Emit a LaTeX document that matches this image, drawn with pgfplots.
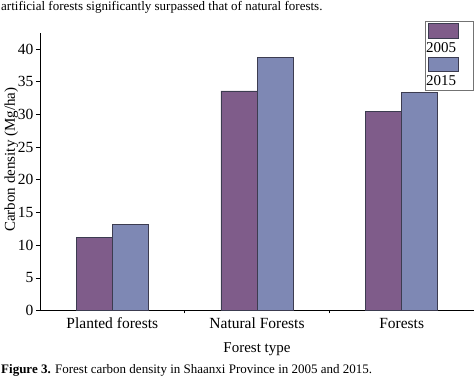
\documentclass[border=0pt]{standalone}
\usepackage{pgfplots}
\pgfplotsset{compat=1.18}
\usepackage{fontspec}
\setmainfont{Liberation Serif}
\definecolor{c05}{HTML}{7F5C8A}
\definecolor{c15}{HTML}{7E88B4}
\definecolor{edge}{HTML}{3C3C50}
\begin{document}
\begin{tikzpicture}
\path[use as bounding box, clip] (-40pt,-66.5pt) rectangle (434pt,310.5pt);
\begin{axis}[
 scale only axis, width=434pt, height=277.8pt,
 xmin=-0.5, xmax=2.5, ymin=0, ymax=42.5,
 axis x line*=bottom, axis y line*=left,
 axis line style={black, line width=0.6pt},
 ybar=0pt, bar width=36pt,
 xtick={0,1,2}, xticklabels={Planted forests, Natural Forests, Forests},
 xtick style={draw=none},
 extra x ticks={0.5,1.5}, extra x tick labels={},
 extra x tick style={xtick style={draw=black, line width=0.5pt}, major tick length=3pt},
 ytick={0,5,...,40}, tick align=outside, major tick length=4pt,
 ytick style={black, line width=0.6pt},
 tick label style={font=\fontsize{15.5}{17}\selectfont},
 yticklabel style={xshift=1pt},
 /pgf/number format/assume math mode=true,
 xlabel={Forest type}, ylabel={Carbon density (Mg/ha)},
 label style={font=\fontsize{15}{17}\selectfont},
 xlabel style={at={(axis description cs:0.5,0)}, anchor=center, yshift=-39pt},
 ylabel style={at={(axis description cs:-0.066,0.543)}, anchor=center},
]
\addplot[fill=c05, draw=edge, line width=0.5pt] coordinates {(0,11.2) (1,33.6) (2,30.5)};
\addplot[fill=c15, draw=edge, line width=0.5pt] coordinates {(0,13.2) (1,38.7) (2,33.4)};
\end{axis}
\draw[black!55, line width=0.5pt, fill=white] (385pt,220.5pt) rectangle (433.5pt,289pt);
\draw[edge, line width=0.5pt, fill=c05] (388pt,272.5pt) rectangle (418pt,287pt);
\node[font=\fontsize{15}{17}\selectfont] at (401pt,263pt) {2005};
\draw[edge, line width=0.5pt, fill=c15] (388pt,239pt) rectangle (418pt,253.5pt);
\node[font=\fontsize{15}{17}\selectfont] at (401pt,229.5pt) {2015};
\node[anchor=base west, font=\fontsize{13}{15}\selectfont, inner sep=0pt] at (-39pt,300pt) {artificial forests significantly surpassed that of natural forests.};
\node[anchor=base west, font=\fontsize{13}{15}\selectfont, inner sep=0pt] at (-39pt,-63pt) {\textbf{Figure 3.} Forest carbon density in Shaanxi Province in 2005 and 2015.};
\end{tikzpicture}
\end{document}
